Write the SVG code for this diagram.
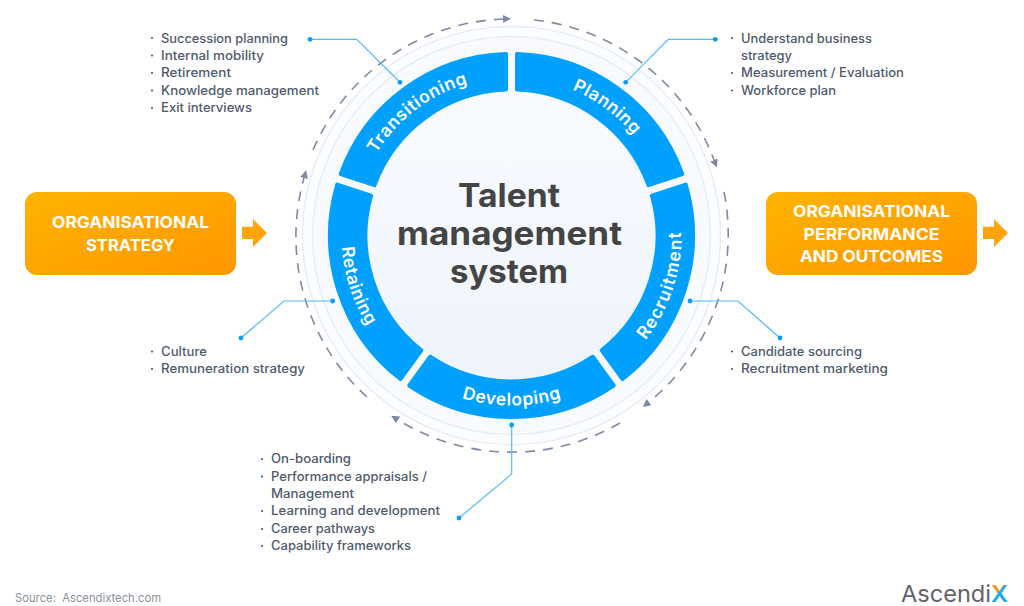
<svg xmlns="http://www.w3.org/2000/svg" width="1024" height="606" viewBox="0 0 1024 606">
<style>
text{font-family:Inter,"Noto Sans","Liberation Sans",sans-serif}
.li{font-size:12.5px;font-weight:500;fill:#4f5a6c}
.dot{fill:#4f5a6c}
.box{fill:url(#orange)}
.bt{font-size:16px;font-weight:700;fill:#fff;text-anchor:middle}
.seg{fill:#00a0ff;stroke:#00a0ff;stroke-width:4;stroke-linejoin:round}
.lab{font-size:17.5px;font-weight:600;fill:#fff;text-anchor:middle}
.ttl{font-size:33px;font-weight:700;fill:#444;text-anchor:middle}
.lead{fill:none;stroke:#54bbff;stroke-width:1.2}
.pin{fill:#0a9cff}
.flow{fill:none;stroke:#7e8aa3;stroke-width:1.6;stroke-dasharray:10 8;marker-end:url(#tri)}
.arr{fill:#ffa40a}
</style>
<defs>
<linearGradient id="orange" x1="0" y1="0" x2="1" y2="1"><stop offset="0" stop-color="#ffb400"/><stop offset="1" stop-color="#ff9600"/></linearGradient>
<linearGradient id="core" x1="0" y1="0" x2="0" y2="1"><stop offset="0" stop-color="#f9fbff"/><stop offset="1" stop-color="#eef3fc"/></linearGradient>
<linearGradient id="xg" gradientUnits="userSpaceOnUse" x1="991" y1="586" x2="1008" y2="602"><stop offset="0" stop-color="#f7931e"/><stop offset=".38" stop-color="#f7931e"/><stop offset=".42" stop-color="#1ea7f2"/><stop offset="1" stop-color="#1ea7f2"/></linearGradient>
<marker id="tri" viewBox="0 0 8 8" markerWidth="8" markerHeight="8" markerUnits="userSpaceOnUse" refX="0" refY="4" orient="auto"><path d="M0 0L8 4L0 8Z" fill="#7e8aa3"/></marker>
<path id="seg" class="seg" d="M-102.19 -150A181.5 181.5 0 0 1 102.19 -150L81.31 -121.26A146 146 0 0 0 -81.31 -121.26Z"/>
<path id="arcTop" d="M-158 0A158 158 0 0 1 158 0"/>
<path id="arcBot" d="M-170 0A170 170 0 0 0 170 0"/>
</defs>

<g id="rings">
<circle cx="511.5" cy="235.5" r="209" fill="#fcfdfe" stroke="#e8edf5" stroke-width="1.5"/>
<circle cx="511.5" cy="235.5" r="199" fill="#f8fafd" stroke="#e8edf5" stroke-width="1.5"/>
<circle cx="511.5" cy="235.5" r="145" fill="url(#core)"/>
</g>

<g id="connectors">
<path class="flow" d="M313 150A216.5 216.5 0 0 1 503 19"/>
<path class="flow" d="M534 20A216.5 216.5 0 0 1 714 160"/>
<path class="flow" d="M724 192A216.5 216.5 0 0 1 649 402"/>
<path class="flow" d="M620 423A216.5 216.5 0 0 1 398 420"/>
<path class="flow" d="M367 397A216.5 216.5 0 0 1 304 178"/>
<path class="lead" d="M310 39.3H356.7L400 82.3"/>
<path class="lead" d="M715.3 39.3H668.3L625.7 82.3"/>
<path class="lead" d="M332.7 301H284L241 338"/>
<path class="lead" d="M690 301H738L780 338"/>
<path class="lead" d="M511.7 425V474L459 518"/>
<g class="pin">
<circle cx="310" cy="39.3" r="2.4"/><circle cx="400" cy="82.3" r="2.4"/>
<circle cx="715.3" cy="39.3" r="2.4"/><circle cx="625.7" cy="82.3" r="2.4"/>
<circle cx="332.7" cy="301" r="2.4"/><circle cx="241" cy="338" r="2.4"/>
<circle cx="690" cy="301" r="2.4"/><circle cx="780" cy="338" r="2.4"/>
<circle cx="511.7" cy="425" r="2.4"/><circle cx="459" cy="518" r="2.4"/>
</g>
<path class="arr" d="M242 226.7H253V219L267 233L253 247V239H242Z"/>
<path class="arr" d="M983 226.7H994V219L1008 233L994 247V239H983Z"/>
</g>

<g id="transitioning">
<use href="#seg" transform="translate(511.5 235.5) rotate(-36)"/>
<g transform="translate(511.5 235.5) rotate(-37.5)"><text class="lab"><textPath href="#arcTop" startOffset="50%" textLength="118">Transitioning</textPath></text></g>
</g>
<g id="planning">
<use href="#seg" transform="translate(511.5 235.5) rotate(36)"/>
<g transform="translate(511.5 235.5) rotate(36.5)"><text class="lab"><textPath href="#arcTop" startOffset="50%" textLength="77">Planning</textPath></text></g>
</g>
<g id="recruitment">
<use href="#seg" transform="translate(511.5 235.5) rotate(108)"/>
<g transform="translate(511.5 235.5) rotate(-71.5)"><text class="lab"><textPath href="#arcBot" startOffset="50%" textLength="116">Recruitment</textPath></text></g>
</g>
<g id="developing">
<use href="#seg" transform="translate(511.5 235.5) rotate(180)"/>
<g transform="translate(511.5 235.5)"><text class="lab"><textPath href="#arcBot" startOffset="50%" textLength="101">Developing</textPath></text></g>
</g>
<g id="retaining">
<use href="#seg" transform="translate(511.5 235.5) rotate(252)"/>
<g transform="translate(511.5 235.5) rotate(72)"><text class="lab"><textPath href="#arcBot" startOffset="50%" textLength="84">Retaining</textPath></text></g>
</g>

<g id="center">
<text class="ttl" x="509" y="207" textLength="102" lengthAdjust="spacingAndGlyphs">Talent</text>
<text class="ttl" x="509.5" y="245" textLength="225" lengthAdjust="spacingAndGlyphs">management</text>
<text class="ttl" x="509" y="283" textLength="118" lengthAdjust="spacingAndGlyphs">system</text>
</g>

<g id="strategy">
<rect class="box" x="25" y="192" width="211" height="83" rx="12"/>
<text class="bt" x="130.5" y="228" textLength="157" lengthAdjust="spacingAndGlyphs">ORGANISATIONAL</text>
<text class="bt" x="130.5" y="250.5" textLength="89" lengthAdjust="spacingAndGlyphs">STRATEGY</text>
</g>
<g id="outcomes">
<rect class="box" x="766" y="192" width="211" height="83" rx="12"/>
<text class="bt" x="871.5" y="217" textLength="157" lengthAdjust="spacingAndGlyphs">ORGANISATIONAL</text>
<text class="bt" x="871.5" y="239.5" textLength="136" lengthAdjust="spacingAndGlyphs">PERFORMANCE</text>
<text class="bt" x="871.5" y="262" textLength="143" lengthAdjust="spacingAndGlyphs">AND OUTCOMES</text>
</g>

<g id="list-transitioning">
<circle class="dot" cx="152" cy="38" r="1.1"/><text class="li" x="161" y="42.5" textLength="127" lengthAdjust="spacingAndGlyphs">Succession planning</text>
<circle class="dot" cx="152" cy="55.5" r="1.1"/><text class="li" x="161" y="59.5" textLength="103" lengthAdjust="spacingAndGlyphs">Internal mobility</text>
<circle class="dot" cx="152" cy="73" r="1.1"/><text class="li" x="161" y="77" textLength="70" lengthAdjust="spacingAndGlyphs">Retirement</text>
<circle class="dot" cx="152" cy="90.5" r="1.1"/><text class="li" x="161" y="94.5" textLength="158" lengthAdjust="spacingAndGlyphs">Knowledge management</text>
<circle class="dot" cx="152" cy="108" r="1.1"/><text class="li" x="161" y="112" textLength="91" lengthAdjust="spacingAndGlyphs">Exit interviews</text>
</g>
<g id="list-planning">
<circle class="dot" cx="732" cy="38" r="1.1"/><text class="li" x="741" y="42.5" textLength="131" lengthAdjust="spacingAndGlyphs">Understand business</text>
<text class="li" x="741" y="59.5" textLength="51" lengthAdjust="spacingAndGlyphs">strategy</text>
<circle class="dot" cx="732" cy="73" r="1.1"/><text class="li" x="741" y="77" textLength="163" lengthAdjust="spacingAndGlyphs">Measurement / Evaluation</text>
<circle class="dot" cx="732" cy="90.5" r="1.1"/><text class="li" x="741" y="94.5" textLength="95" lengthAdjust="spacingAndGlyphs">Workforce plan</text>
</g>
<g id="list-retaining">
<circle class="dot" cx="152" cy="351.5" r="1.1"/><text class="li" x="161" y="355.5" textLength="46" lengthAdjust="spacingAndGlyphs">Culture</text>
<circle class="dot" cx="152" cy="369" r="1.1"/><text class="li" x="161" y="373" textLength="144" lengthAdjust="spacingAndGlyphs">Remuneration strategy</text>
</g>
<g id="list-recruitment">
<circle class="dot" cx="732" cy="351.5" r="1.1"/><text class="li" x="741" y="355.5" textLength="121" lengthAdjust="spacingAndGlyphs">Candidate sourcing</text>
<circle class="dot" cx="732" cy="369" r="1.1"/><text class="li" x="741" y="373" textLength="147" lengthAdjust="spacingAndGlyphs">Recruitment marketing</text>
</g>
<g id="list-developing">
<circle class="dot" cx="262" cy="459" r="1.1"/><text class="li" x="271" y="463" textLength="80" lengthAdjust="spacingAndGlyphs">On-boarding</text>
<circle class="dot" cx="262" cy="476.5" r="1.1"/><text class="li" x="271" y="480.5" textLength="156" lengthAdjust="spacingAndGlyphs">Performance appraisals /</text>
<text class="li" x="271" y="498" textLength="83" lengthAdjust="spacingAndGlyphs">Management</text>
<circle class="dot" cx="262" cy="511" r="1.1"/><text class="li" x="271" y="515" textLength="169" lengthAdjust="spacingAndGlyphs">Learning and development</text>
<circle class="dot" cx="262" cy="529" r="1.1"/><text class="li" x="271" y="533" textLength="104" lengthAdjust="spacingAndGlyphs">Career pathways</text>
<circle class="dot" cx="262" cy="546" r="1.1"/><text class="li" x="271" y="550" textLength="140" lengthAdjust="spacingAndGlyphs">Capability frameworks</text>
</g>

<text id="source" x="15" y="602" font-size="12" fill="#8a909a" textLength="146" lengthAdjust="spacingAndGlyphs" xml:space="preserve">Source:  Ascendixtech.com</text>
<g id="logo"><text x="901" y="602" font-size="23" font-weight="400" fill="#5f6368" textLength="107" lengthAdjust="spacingAndGlyphs">Ascendi<tspan fill="url(#xg)" font-weight="600">X</tspan></text></g>
</svg>
